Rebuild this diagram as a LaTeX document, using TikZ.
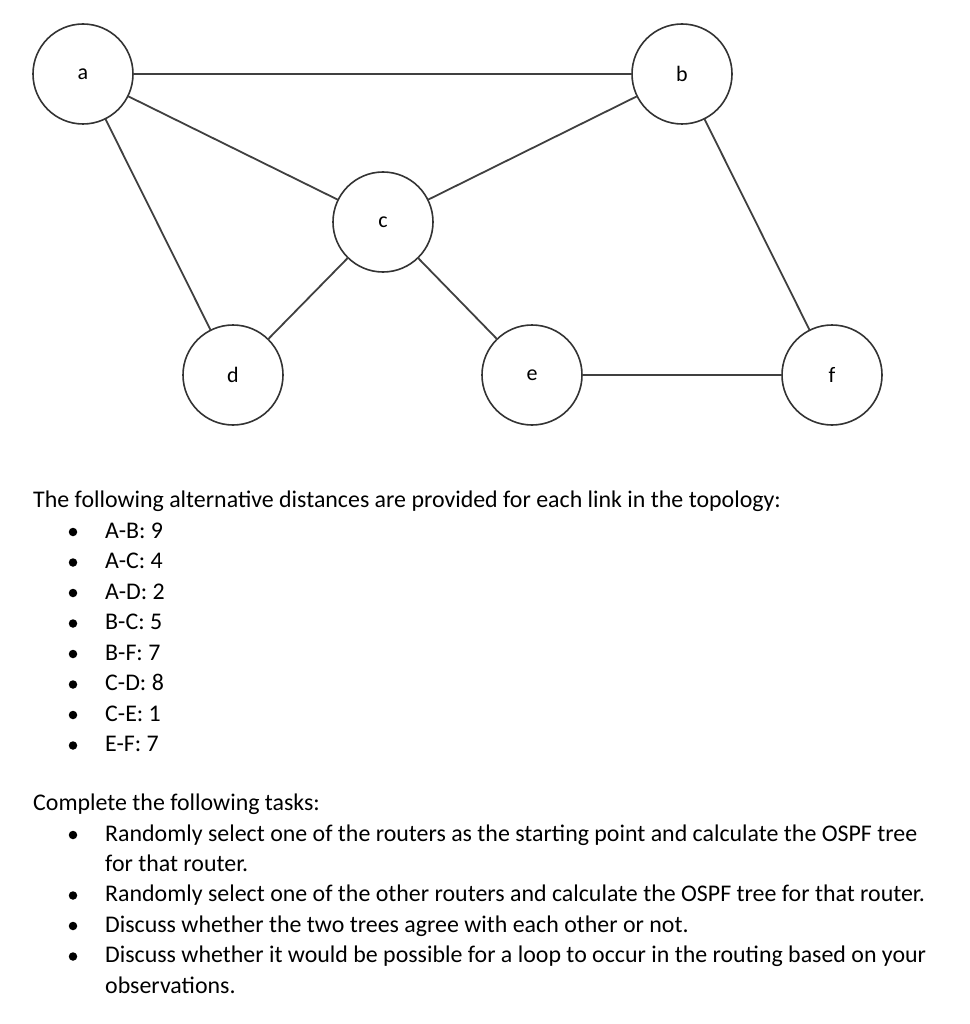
\documentclass[tikz,border=0pt]{standalone}
\usepackage{fontspec}
\setmainfont{Carlito}
\begin{document}
\begin{tikzpicture}[x=1pt, y=-1pt, line join=round,
  router/.style={circle, draw=black!80, line width=1.6pt, minimum size=100pt,
    inner sep=0pt, outer sep=0pt, font=\fontsize{22}{26}\selectfont},
  link/.style={draw=black!75, line width=1.8pt},
  txt/.style={anchor=base west, inner sep=0pt, font=\fontsize{23.9}{28}\selectfont},
  bul/.style={circle, fill=black, minimum size=8.5pt, inner sep=0pt}]
\useasboundingbox (0,0) rectangle (969,1024);
% routers
\node[router] (a) at (83,74)  {a};
\node[router] (b) at (682,74) {b};
\node[router] (c) at (383,222) {c};
\node[router] (d) at (233,375) {d};
\node[router] (e) at (532,375) {e};
\node[router] (f) at (832,375) {f};
% links
\draw[link] (a)--(b) (a)--(c) (a)--(d) (c)--(b);
\draw[link] (c)--(d) (c)--(e) (e)--(f) (b)--(f);
% distances
\node[txt] (dist) at (33,507) {The following alternative distances are provided for each link in the topology:};
\node[bul] (d1) at (73,532)   {}; \node[txt] (ab) at (105,538)   {A-B: 9};
\node[bul] (d2) at (73,562.5) {}; \node[txt] (ac) at (105,568.5) {A-C: 4};
\node[bul] (d3) at (73,593)   {}; \node[txt] (ad) at (105,599)   {A-D: 2};
\node[bul] (d4) at (73,623.5) {}; \node[txt] (bc) at (105,629.5) {B-C: 5};
\node[bul] (d5) at (73,654)   {}; \node[txt] (bf) at (105,660)   {B-F: 7};
\node[bul] (d6) at (73,684.5) {}; \node[txt] (cd) at (105,690.5) {C-D: 8};
\node[bul] (d7) at (73,715)   {}; \node[txt] (ce) at (105,721)   {C-E: 1};
\node[bul] (d8) at (73,745.5) {}; \node[txt] (ef) at (105,751.5) {E-F: 7};
% tasks
\node[txt] (tasks) at (33,810) {Complete the following tasks:};
\node[bul] (t1) at (73,835)   {}; \node[txt] (task1) at (105,841) {Randomly select one of the routers as the starting point and calculate the OSPF tree};
\node[txt] (task1b) at (105,871) {for that router.};
\node[bul] (t2) at (73,895.5) {}; \node[txt] (task2) at (105,901.5) {Randomly select one of the other routers and calculate the OSPF tree for that router.};
\node[bul] (t3) at (73,926)   {}; \node[txt] (task3) at (105,932) {Discuss whether the two trees agree with each other or not.};
\node[bul] (t4) at (73,956.5) {}; \node[txt] (task4) at (105,962.5) {Discuss whether it would be possible for a loop to occur in the routing based on your};
\node[txt] (task4b) at (105,993) {observations.};
\end{tikzpicture}
\end{document}
